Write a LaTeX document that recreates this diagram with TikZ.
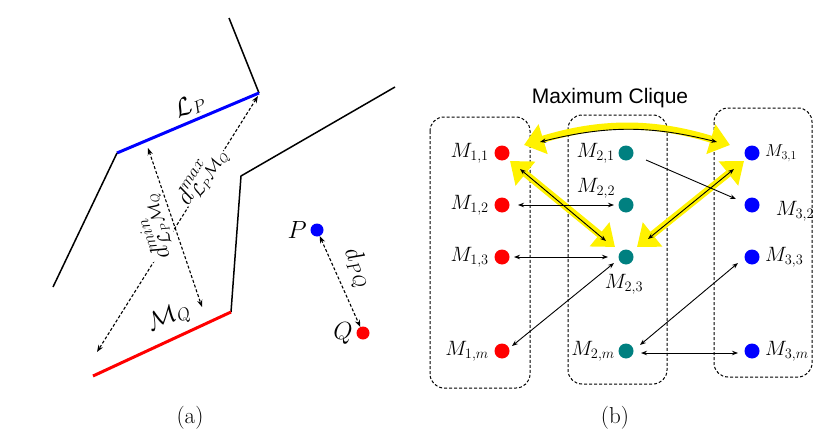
\documentclass[tikz,border=0pt]{standalone}
\usepackage{fontspec}
\usetikzlibrary{arrows.meta,positioning,calc}
\newfontfamily\sansf{Liberation Sans}
\begin{document}
\begin{tikzpicture}[x=1pt,y=-1pt,
 seg/.style={line width=1.5pt},
 dar/.style={densely dashed,line width=1.1pt,{Stealth[length=7pt]}-{Stealth[length=7pt]}},
 dot/.style={circle,inner sep=0pt,minimum size=15pt},
 lab/.style={font=\fontsize{23}{26}\selectfont},
 mlab/.style={font=\fontsize{21}{24}\selectfont},
 box/.style={densely dashed,line width=1pt,rounded corners=14pt},
 thin/.style={line width=0.9pt,{Stealth[length=6pt]}-{Stealth[length=6pt]}},
 yel/.style={yellow,line width=7pt,{Triangle[length=20pt,width=30pt]}-{Triangle[length=20pt,width=30pt]}}]
\useasboundingbox (0,0) rectangle (836,439);
% (a)
\coordinate (a1) at (229,18); \coordinate (a2) at (259,93);
\coordinate (a3) at (117,153); \coordinate (a4) at (53,287);
\coordinate (b1) at (395,87); \coordinate (b2) at (241,176);
\coordinate (b3) at (231,312); \coordinate (b4) at (93,376);
\draw[seg] (a1)--(a2); \draw[seg,blue,line width=3pt] (a2)--(a3); \draw[seg] (a3)--(a4);
\draw[seg] (b1)--(b2)--(b3); \draw[seg,red,line width=3pt] (b3)--(b4);
\coordinate (m1) at (148,148); \coordinate (m2) at (202,307);
\coordinate (x1) at (258,96); \coordinate (x2) at (97,352);
\draw[dar] (m1)--(m2);
\draw[dar] (x1)--(x2);
\node[lab,fill=white,inner sep=0pt,rotate=109] (lmin) at (155,227) {$d^{min}_{\mathcal{L}_P\mathcal{M}_Q}$};
\node[lab,fill=white,inner sep=0pt,rotate=58] (lmax) at (203,177) {$d^{max}_{\mathcal{L}_P\mathcal{M}_Q}$};
\node[lab,rotate=23] (lp) at (190,106) {$\mathcal{L}_P$};
\node[lab,rotate=24] (lq) at (169,318) {$\mathcal{M}_Q$};
\node[dot,fill=blue,minimum size=13pt] (P) at (317,230) {};
\node[dot,fill=red,minimum size=13pt] (Q) at (363,333) {};
\node[lab,left=0pt of P] (Pl) {$P$};
\node[lab,left=0pt of Q] (Ql) {$Q$};
\draw[dar] (P)--(Q);
\node[lab,rotate=-66] (dpq) at (357,268) {$d_{PQ}$};
\node[lab] (ca) at (190,418) {(a)};
\node[lab] (cb) at (615,418) {(b)};
% (b)
\draw[box] (430,117) rectangle (530,388);
\draw[box] (568,115) rectangle (667,384);
\draw[box] (714,108) rectangle (812,377);
\node[font=\sansf\fontsize{21}{24}\selectfont] (title) at (610,98) {Maximum Clique};
\foreach \i/\y in {1/153,2/205,3/257,m/351}{
 \node[dot,fill=red] (A\i) at (502,\y) {};
 \node[dot,fill=teal] (B\i) at (626,\y) {};
 \node[dot,fill=blue] (C\i) at (752,\y) {};
 \node[mlab,left=2pt of A\i] {$M_{1,\i}$};
}
\node[mlab,left=0pt of B1] {$M_{2,1}$};
\node[mlab] (b2l) at (596,188) {$M_{2,2}$};
\node[mlab] (b3l) at (624,284) {$M_{2,3}$};
\node[mlab,left=0pt of Bm] {$M_{2,m}$};
\node[font=\fontsize{18}{20}\selectfont,right=2pt of C1] {$M_{3,1}$};
\node[mlab] at (795,211) {$M_{3,2}$};
\node[mlab,right=2pt of C3] {$M_{3,3}$};
\node[mlab,right=2pt of Cm] {$M_{3,m}$};
% yellow
\draw[yel] ($(A1)+(22,-8)$) to[bend left=17] ($(C1)+(-22,-8)$);
\draw[yel] ($(A1)+(8,8)$) -- ($(B3)+(-11,-10)$);
\draw[yel] ($(C1)+(-8,8)$) -- ($(B3)+(11,-10)$);
% thin
\draw[thin] (540,142) to[bend left=14] (717,142);
\draw[thin] ($(A1)+(18,16)$) -- ($(B3)+(-20,-16)$);
\draw[thin] ($(C1)+(-18,16)$) -- ($(B3)+(22,-18)$);
\draw[thin] ($(A2)+(16,0)$) -- ($(B2)+(-12,0)$);
\draw[line width=0.9pt,-{Stealth[length=6pt]}] ($(B1)+(20,7)$) -- ($(C2)+(-16,-6)$);
\draw[thin] ($(A3)+(12,0)$) -- ($(B3)+(-18,0)$);
\draw[thin] ($(B3)+(-12,6)$) -- ($(Am)+(10,-5)$);
\draw[thin] ($(C3)+(-14,6)$) -- ($(Bm)+(14,-6)$);
\draw[thin] ($(Bm)+(15,2)$) -- ($(Cm)+(-14,2)$);
\end{tikzpicture}
\end{document}
